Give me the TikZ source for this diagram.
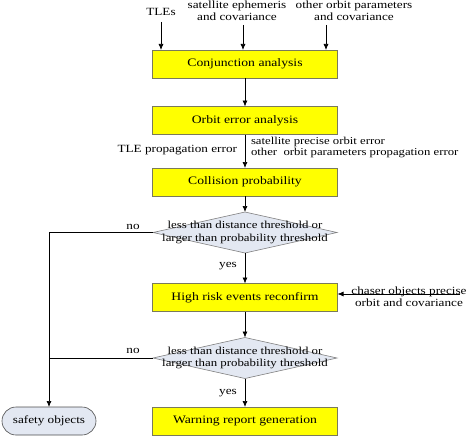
\documentclass[tikz,border=0pt]{standalone}
\usepackage{fontspec}
\setmainfont{Liberation Serif}
\newfontfamily\tr[FakeStretch=1.2]{Liberation Serif}
\usetikzlibrary{arrows.meta,calc}
\definecolor{boxfill}{HTML}{FFFF00}
\definecolor{boxline}{HTML}{7A7A5A}
\definecolor{diafill}{HTML}{E3E8F2}
\definecolor{dialine}{HTML}{808080}
\begin{document}
\begin{tikzpicture}[x=1pt,y=-1pt,
  every node/.style={inner sep=0pt,outer sep=0pt},
  proc/.style={draw=boxline,fill=boxfill,line width=0.8pt,minimum width=185pt,minimum height=28pt,font=\tr\fontsize{11.4}{12}\selectfont},
  diabox/.style={minimum width=184pt,minimum height=41pt},
  diashape/.style={draw=dialine,fill=diafill,line width=0.6pt},
  diatext/.style={align=center,font=\tr\fontsize{10.7}{12.5}\selectfont},
  lbl/.style={align=center,font=\tr\fontsize{11}{12}\selectfont},
  term/.style={draw=black!70,fill=diafill,rounded corners=14pt,minimum width=94pt,minimum height=28pt,line width=0.6pt,font=\tr\fontsize{11}{12}\selectfont},
  arr/.style={-{Latex[length=6pt,width=5pt]},line width=0.7pt},
  ln/.style={line width=0.7pt}]
\useasboundingbox (0,0) rectangle (474,436);

% inputs
\node[lbl] (tle) at (161,12) {TLEs};
\node[lbl] (sat) at (237,11) {satellite ephemeris\\and covariance};
\node[lbl] (oth) at (354,11) {other orbit parameters\\and covariance};

% process boxes
\node[proc] (conj) at (245,64) {Conjunction analysis};
\node[proc] (orb) at (245,120.5) {Orbit error analysis};
\node[proc] (coll) at (245,182) {Collision probability};
\node[proc] (high) at (245,297.5) {High risk events reconfirm};
\node[proc] (warn) at (245,421) {Warning report generation};

% diamonds
\node[diabox] (d1) at (245,232.5) {};
\draw[diashape] (d1.west) -- (d1.north) -- (d1.east) -- (d1.south) -- cycle;
\node[diatext] (d1t) at (d1.center) {less than distance threshold or\\larger than probability threshold};
\node[diabox] (d2) at (245,358) {};
\draw[diashape] (d2.west) -- (d2.north) -- (d2.east) -- (d2.south) -- cycle;
\node[diatext] (d2t) at (d2.center) {less than distance threshold or\\larger than probability threshold};

% terminal
\node[term] (safe) at (49,421) {safety objects};

% input arrows
\coordinate (tleA) at (161,22);
\coordinate (satA) at (243,25);
\coordinate (othA) at (326,25);
\draw[arr] (tleA) -- (tleA |- conj.north);
\draw[arr] (satA) -- (satA |- conj.north);
\draw[arr] (othA) -- (othA |- conj.north);

% main flow
\draw[arr] (conj) -- (orb);
\draw[arr] (orb) -- (coll);
\draw[arr] (coll) -- (d1.north);
\draw[arr] (d1.south) -- (high);
\draw[arr] (high) -- (d2.north);
\draw[arr] (d2.south) -- (warn);

% labels between orbit and collision
\node[lbl,anchor=east] (tpe) at (237,150) {TLE propagation error};
\node[lbl,anchor=west,align=left,font=\tr\fontsize{10.6}{9.5}\selectfont] (spe) at (251,147.5) {satellite precise orbit error\\other\ \ orbit parameters propagation error};

% no / yes
\node[lbl] (no1) at (133,227) {no};
\node[lbl] (no2) at (133,351) {no};
\node[lbl] (yes1) at (228,266) {yes};
\node[lbl] (yes2) at (228,393) {yes};

% left path
\coordinate (lc) at (49,232.5);
\draw[ln] (d1.west) -- (lc);
\draw[arr] (lc) -- (safe.north);
\draw[ln] (d2.west) -- (lc |- d2.west);

% chaser
\node[lbl] (chs) at (409,297) {chaser objects precise\\orbit and covariance};
\coordinate (chA) at (460,294);
\draw[arr] (chA) -- (chA -| high.east);
\end{tikzpicture}
\end{document}
